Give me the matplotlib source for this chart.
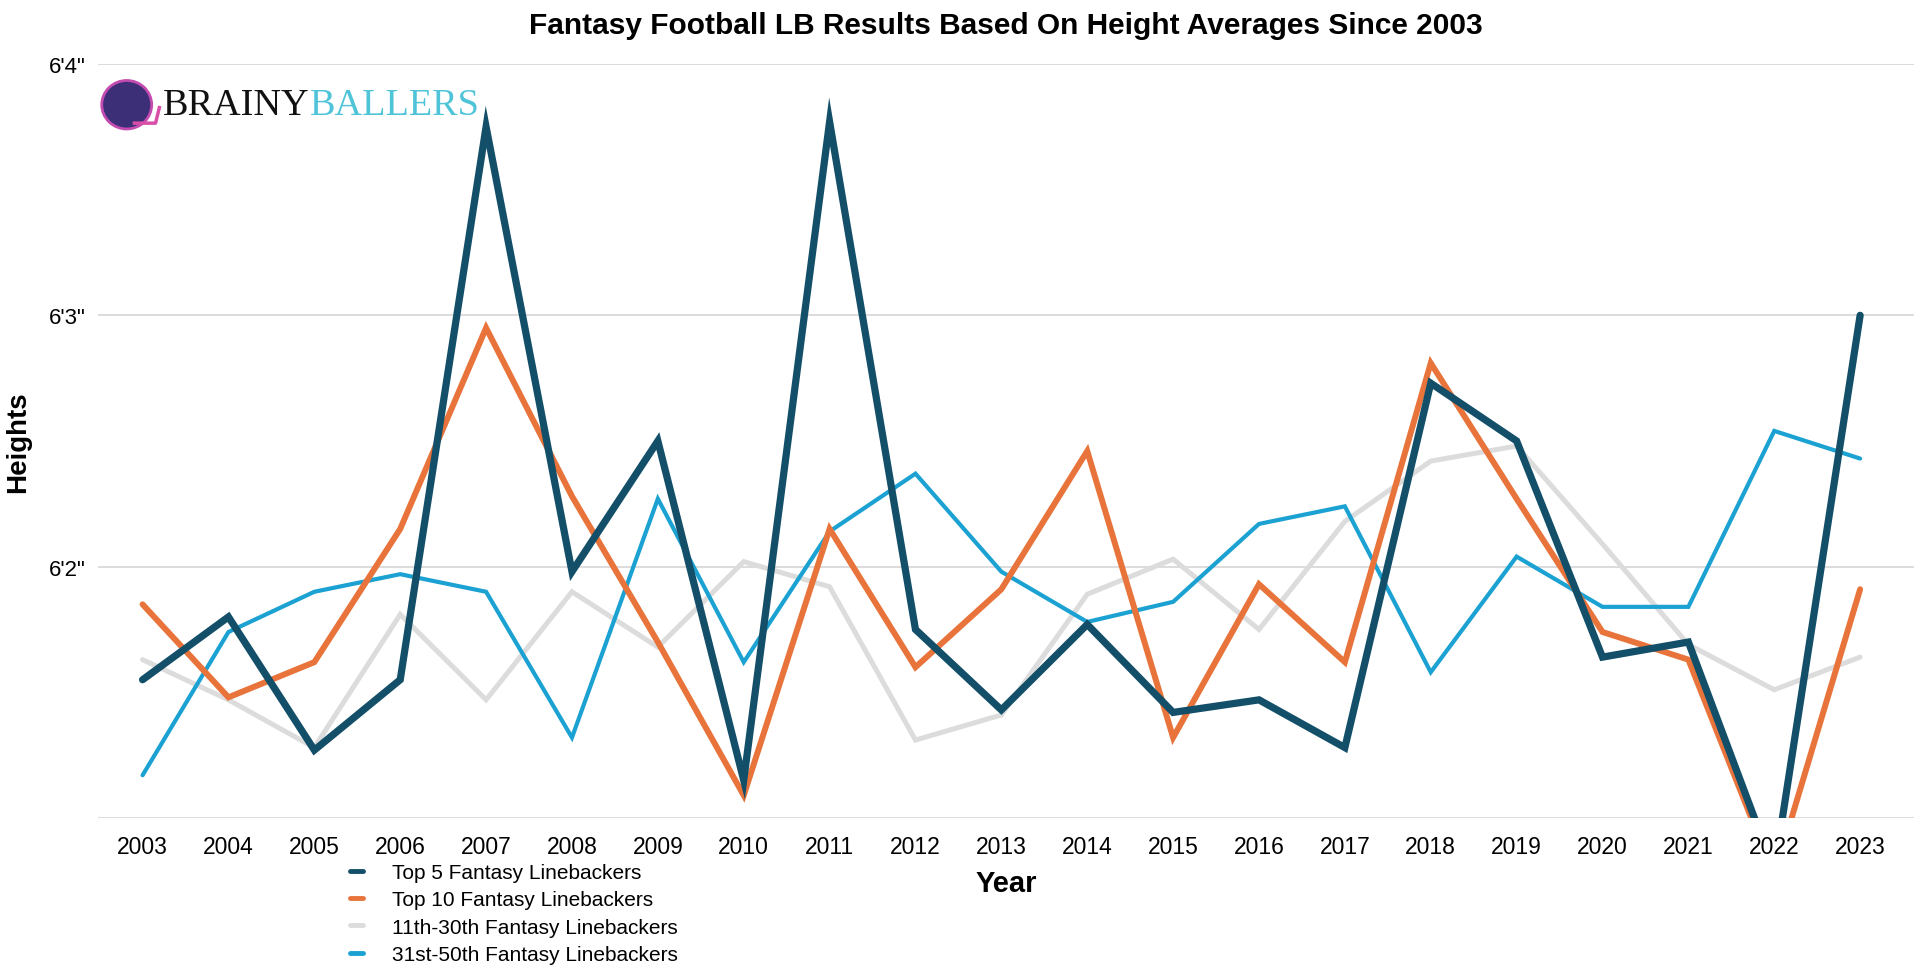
import matplotlib
matplotlib.use("Agg")
import matplotlib.pyplot as plt
from matplotlib.patches import Ellipse

plt.rcParams['font.family'] = ['Liberation Sans', 'DejaVu Sans']

# average heights in inches
years = list(range(2003, 2024))
top5 = [73.55, 73.80, 73.27, 73.55, 75.75, 73.98, 74.50, 73.15, 75.77, 73.75, 73.43,
        73.77, 73.42, 73.47, 73.28, 74.73, 74.50, 73.64, 73.70, 72.79, 75.00]
top10 = [73.85, 73.48, 73.62, 74.15, 74.95, 74.28, 73.70, 73.09, 74.15, 73.60, 73.91,
         74.46, 73.32, 73.93, 73.62, 74.81, 74.27, 73.74, 73.63, 72.77, 73.91]
r11_30 = [73.63, 73.47, 73.28, 73.81, 73.47, 73.90, 73.68, 74.02, 73.92, 73.31, 73.41,
          73.89, 74.03, 73.75, 74.18, 74.42, 74.48, 74.09, 73.69, 73.51, 73.64]
r31_50 = [73.17, 73.74, 73.90, 73.97, 73.90, 73.32, 74.27, 73.62, 74.14, 74.37, 73.98,
          73.78, 73.86, 74.17, 74.24, 73.58, 74.04, 73.84, 73.84, 74.54, 74.43]

series = [
    ("Top 5 Fantasy Linebackers", top5, "#134f68", 5.2, 5),
    ("Top 10 Fantasy Linebackers", top10, "#e8743b", 4.3, 4),
    ("11th-30th Fantasy Linebackers", r11_30, "#dcdcdc", 3.6, 2),
    ("31st-50th Fantasy Linebackers", r31_50, "#1ba2d2", 3.0, 3),
]

y_ticks = [73, 74, 75, 76]

def fmt_height(v):
    v = int(round(v))
    return f"{v // 12}'{v % 12}\"" if v > 73 else ""

fig = plt.figure(figsize=(19.2, 9.7), dpi=100)
ax = fig.add_axes([0.051, 0.1557, 0.946, 0.7773])

for name, vals, color, lw, z in series:
    ax.plot(years, vals, color=color, lw=lw, label=name, zorder=z,
            solid_joinstyle='miter', solid_capstyle='round')

ax.set_xlim(2002.48, 2023.63)
ax.set_ylim(73, 76)
ax.set_xticks(years)
ax.set_xticklabels([str(y) for y in years], fontsize=16.5)
ax.set_yticks(y_ticks)
ax.set_yticklabels([fmt_height(v) for v in y_ticks], fontsize=16)
ax.tick_params(length=0, pad=12)
ax.tick_params(axis='y', pad=9)
ax.grid(axis='y', color='#d9d9d9', lw=1.3)
for s in ax.spines.values():
    s.set_visible(False)

ax.set_title("Fantasy Football LB Results Based On Height Averages Since 2003",
             fontsize=21.5, fontweight='bold', pad=22)
ax.set_xlabel("Year", fontsize=21, fontweight='bold', labelpad=8)
fig.text(0.0095, 0.544, "Heights", fontsize=20, fontweight='bold', rotation=90,
         ha='center', va='center')

leg = fig.legend(loc='upper left', bbox_to_anchor=(0.178, 0.118), frameon=False,
                 fontsize=15, handlelength=0.6, handletextpad=1.4, labelspacing=0.4,
                 borderaxespad=0)
for h in leg.get_lines():
    h.set_linewidth(3.5)

# logo: rough helmet mark plus the wordmark
fig.patches.append(Ellipse((0.066, 0.891), 0.026, 0.05, transform=fig.transFigure,
                           facecolor='#3c2f78', edgecolor='#c44bb0', lw=2, figure=fig))
fig.lines.append(plt.Line2D([0.070, 0.081, 0.083], [0.872, 0.872, 0.888],
                            transform=fig.transFigure, color='#d94fa8', lw=2.5))
t1 = fig.text(0.085, 0.891, "BRAINY", fontsize=27.5, family='Liberation Serif',
              color='#111111', va='center', ha='left')
fig.canvas.draw()
bb = t1.get_window_extent().transformed(fig.transFigure.inverted())
fig.text(bb.x1, 0.891, "BALLERS", fontsize=27.5, family='Liberation Serif',
         color='#4fc4d9', va='center', ha='left')

fig.savefig("out.png", dpi=100, facecolor='white')
